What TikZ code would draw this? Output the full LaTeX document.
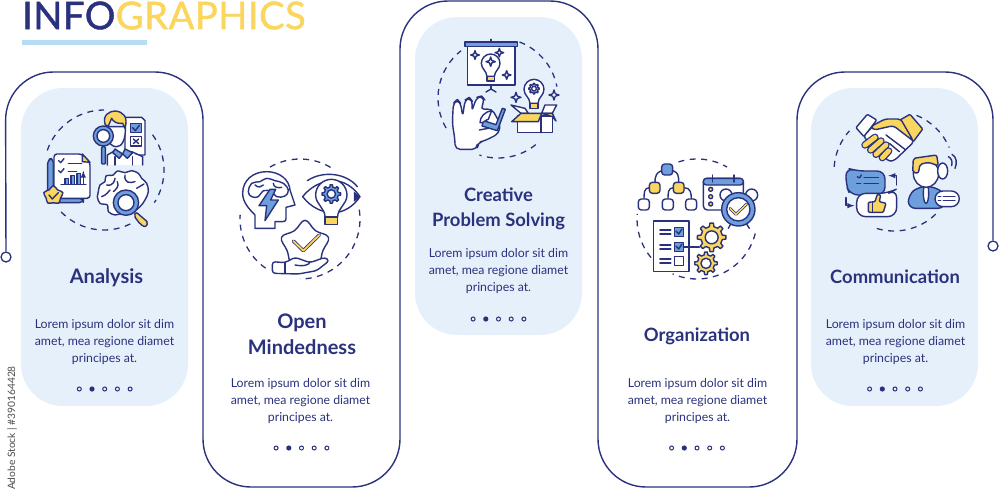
\documentclass[tikz,border=0pt]{standalone}
\usepackage{tikz}
\usepackage{fontspec}
\setmainfont{Lato}
\usetikzlibrary{positioning,calc}
\definecolor{navy}{HTML}{2A327D}
\definecolor{yelc}{HTML}{FBD65E}
\definecolor{midb}{HTML}{6C9FDC}
\definecolor{cardc}{HTML}{E6F0FB}
\definecolor{barc}{HTML}{B5DDF4}
\tikzset{
ln/.style={draw=navy,line width=1.4pt,line join=round,line cap=round},
wf/.style={ln,fill=white},
yf/.style={ln,fill=yelc},
bf/.style={ln,fill=midb},
dashline/.style={draw=navy,line width=1.3pt,dash pattern=on 6pt off 5.5pt},
card/.style={fill=cardc,rounded corners=42pt,inner sep=0pt},
headbig/.style={text=navy,align=center,font=\fontsize{20}{26}\selectfont\bfseries},
headtext/.style={text=navy,align=center,font=\fontsize{18.4}{25}\selectfont\bfseries},
bodytext/.style={text=navy,align=center,font=\fontsize{12.3}{17}\selectfont},
titletext/.style={anchor=base west,inner sep=0pt,font=\fontsize{38.2}{40}\selectfont\addfontfeature{FakeBold=1.2,LetterSpace=1.2}},
endring/.style={circle,draw=navy,line width=1.3pt,fill=white,minimum size=10pt,inner sep=0pt},
fingerline/.style={draw=navy,line width=7.4pt,line cap=round},
fingerfill/.style={line width=4.8pt,line cap=round},
pics/dotrow/.style={code={
\draw[navy,line width=1pt] (-25.4,0) circle (2);
\fill[navy] (-12.7,0) circle (2.6);
\draw[navy,line width=1pt] (0,0) circle (2);
\draw[navy,line width=1pt] (12.7,0) circle (2);
\draw[navy,line width=1pt] (25.4,0) circle (2);
}},
pics/gearicon/.style={code={
\draw[ln,fill=#1] (-12:.76) \foreach \a in {0,45,...,315}{-- (\a-12:.76) -- (\a-7:1) -- (\a+7:1) -- (\a+12:.76)} -- cycle;
\draw[ln,fill=white] (0,0) circle (.45);
}},
pics/sparkle/.style={code={
\draw[ln,fill=white] (0,-1) -- (.25,-.25) -- (1,0) -- (.25,.25) -- (0,1) -- (-.25,.25) -- (-1,0) -- (-.25,-.25) -- cycle;
}},
pics/starblob/.style={code={
\draw[ln,fill=#1] plot[smooth cycle,tension=.7] coordinates {(-90:1) (-54:.72) (-18:1) (18:.76) (54:.92) (90:.7) (126:.92) (162:.76) (198:1) (234:.72)};
}},
pics/bulb/.style={code={
\draw[ln,fill=#1] (-.4,1.4) .. controls (-.42,.8) and (-1,.6) .. (-1,0) .. controls (-1,-.55) and (-.55,-1) .. (0,-1) .. controls (.55,-1) and (1,-.55) .. (1,0) .. controls (1,.6) and (.42,.8) .. (.4,1.4) -- cycle;
\draw[yf] (-.4,1.4) rectangle (.4,1.9);
}}
}
\begin{document}
\begin{tikzpicture}[x=1pt,y=-1pt]
\useasboundingbox (0,0) rectangle (1000,488);
\node (info) [titletext,text=navy] at (22,29.2) {INFO};
\node (graphics) [titletext,text=yelc] at (info.base east) {GRAPHICS};
\fill[barc] (22,40) rectangle (147,45);
\node (cardA) [card,minimum width=167pt,minimum height=318pt] at (104.5,247) {};
\node (cardC) [card,minimum width=167pt,minimum height=318pt] at (498.5,176) {};
\node (cardE) [card,minimum width=167pt,minimum height=318pt] at (894.5,247) {};
\node (startring) [endring] at (6,257) {};
\node (endring) [endring] at (993,246) {};
\draw[navy,line width=1.4pt,rounded corners=48pt] (startring) -- (5.5,72) -- (203,72) -- (203,487) -- (400,487) -- (400,1) -- (598,1) -- (598,487) -- (797,487) -- (797,72) -- (993,72) -- (endring);
\node (headA) [headbig] at (106.5,277.5) {Analysis};
\node (textA) [bodytext] at (104.5,342) {Lorem ipsum dolor sit dim\\amet, mea regione diamet\\principes at.};
\pic at (104.7,389) {dotrow};
\node (headB) [headbig] at (302,334) {Open\\Mindedness};
\node (textB) [bodytext] at (300.5,401) {Lorem ipsum dolor sit dim\\amet, mea regione diamet\\principes at.};
\pic at (301.5,448) {dotrow};
\node (headC) [headtext] at (498.5,209) {Creative\\Problem Solving};
\node (textC) [bodytext] at (498.5,271) {Lorem ipsum dolor sit dim\\amet, mea regione diamet\\principes at.};
\pic at (498.5,319) {dotrow};
\node (headD) [headtext] at (697,336) {Organization};
\node (textD) [bodytext] at (697.5,401) {Lorem ipsum dolor sit dim\\amet, mea regione diamet\\principes at.};
\pic at (697,448) {dotrow};
\node (headE) [headtext] at (895,277) {Communication};
\node (textE) [bodytext] at (895.5,342) {Lorem ipsum dolor sit dim\\amet, mea regione diamet\\principes at.};
\pic at (895,389) {dotrow};
\node (stockline) [rotate=90,text=black!70,font=\fontsize{10.2}{12}\selectfont] at (12,428) {Adobe Stock | \#390164428};
\draw[dashline] (104,170) ++(-36:60) arc (-36:33:60);
\draw[dashline] (104,170) ++(64:60) arc (64:139:60);
\draw[dashline] (104,170) ++(199:60) arc (199:270:60);
\draw[dashline] (300,219) ++(240:60) arc (240:302:60);
\draw[dashline] (300,219) ++(351:60) arc (351:450:60);
\draw[dashline] (300,219) ++(125:60) arc (125:184:60);
\draw[dashline] (498,98) ++(-69:60) arc (-69:-11:60);
\draw[dashline] (498,98) ++(51:60) arc (51:108:60);
\draw[dashline] (498,98) ++(150:60) arc (150:232:60);
\draw[dashline] (697,219) ++(252:60) arc (252:300:60);
\draw[dashline] (697,219) ++(14:60) arc (14:114:60);
\draw[dashline] (697,219) ++(140:60) arc (140:185:60);
\draw[dashline] (894,171) ++(-68:60) arc (-68:-23:60);
\draw[dashline] (894,171) ++(46:60) arc (46:110:60);
\draw[dashline] (894,171) ++(184:60) arc (184:222:60);
\begin{scope}[x=.3333pt,y=-.3333pt]
\draw[wf] (375,352) -- (425,352) -- (435,362) -- (435,465) -- (375,465) -- cycle;
\draw[bf] (392,370) rectangle (424,398);
\draw[ln] (398,383) -- (406,392) -- (418,376);
\draw[wf] (392,410) rectangle (424,438);
\draw[ln] (400,417) -- (416,431);
\draw[ln] (416,417) -- (400,431);
\path[fill=white] (322,495) -- (322,465) -- (360,440) -- (395,460) -- (428,470) -- (428,495) -- cycle;
\draw[ln] (322,495) -- (322,465) -- (345,452);
\draw[ln] (395,455) -- (428,470) -- (428,495);
\draw[bf] (345,447) -- (368,462) -- (358,475) -- (338,458) -- cycle;
\draw[bf] (375,447) -- (398,458) -- (382,475) -- (368,462) -- cycle;
\draw[ln] (345,470) -- (345,495);
\draw[ln] (398,470) -- (398,495);
\draw[wf] (320,380) .. controls (318,440) and (345,440) .. (350,440) .. controls (365,440) and (378,420) .. (376,380) -- cycle;
\draw[yf] (316,375) .. controls (305,345) and (330,333) .. (345,333) .. controls (370,335) and (385,350) .. (375,385) -- (368,370) .. controls (350,372) and (340,365) .. (335,355) -- (325,378) -- cycle;
\draw[bf,rounded corners=1pt] (305,440) rectangle (316,492);
\draw[ln,fill=midb] (310,408) circle (30);
\draw[ln,fill=white] (310,408) circle (19);
\draw[bf,rounded corners=4pt] (143,478) -- (143,608) -- (250,608) -- (250,595) -- (160,595) -- (160,475) -- cycle;
\draw[wf,rounded corners=3pt] (162,462) -- (245,462) -- (270,487) -- (270,595) -- (162,595) -- cycle;
\draw[yf] (247,462) -- (270,487) -- (247,485) -- cycle;
\draw[ln] (176,482) -- (182,488) -- (192,476);
\draw[ln] (176,512) -- (182,518) -- (192,506);
\draw[ln] (205,490) -- (245,490);
\draw[ln] (205,515) -- (230,515);
\draw[ln] (183,553) -- (258,553);
\draw[bf] (195,535) rectangle (206,553);
\draw[bf] (213,527) rectangle (224,553);
\draw[bf] (231,520) rectangle (242,553);
\draw[ln,-latex] (250,553) -- (250,512);
\pic[scale=30] at (160,587) {starblob={yelc}};
\draw[ln] (147,585) -- (157,597) -- (175,578);
\draw[wf] plot[smooth cycle,tension=.6] coordinates {(295,575) (300,555) (315,545) (318,528) (340,525) (352,513) (375,518) (395,512) (415,520) (425,535) (440,550) (445,575) (435,600) (420,620) (395,638) (365,640) (345,645) (325,635) (322,615) (300,610) (292,590)};
\draw[ln] (320,555) .. controls (340,560) and (345,540) .. (345,535);
\draw[ln] (375,525) .. controls (372,550) and (390,550) .. (405,545);
\draw[ln] (305,590) .. controls (320,585) and (325,575) .. (330,570);
\draw[ln] (410,565) -- (432,552);
\draw[ln] (352,545) .. controls (360,560) and (345,570) .. (340,575);
\draw[yf,rounded corners=2pt] (408,636) -- (422,648) -- (445,668) -- (436,682) -- (420,672) -- (402,648) -- cycle;
\draw[bf] (378,608) circle (38);
\draw[wf] (378,608) circle (24);
\end{scope}
\begin{scope}[shift={(210,150)},x=.3333pt,y=-.3333pt]
\draw[wf] (135,235) -- (135,195) .. controls (115,175) and (98,155) .. (98,130) .. controls (98,90) and (130,65) .. (170,65) .. controls (210,65) and (238,90) .. (240,120) -- (255,165) -- (228,172) -- (228,205) .. controls (228,215) and (222,215) .. (215,215) -- (195,215) -- (195,235) -- cycle;
\draw[wf] plot[smooth cycle,tension=.7] coordinates {(115,125) (125,100) (150,95) (170,85) (195,92) (220,100) (235,120) (225,138) (200,140) (185,125) (160,122) (145,140) (125,140)};
\draw[ln] (135,105) .. controls (145,115) and (155,110) .. (160,105);
\draw[ln] (190,100) .. controls (190,112) and (205,115) .. (215,112);
\draw[bf] (180,118) -- (147,167) -- (170,167) -- (165,212) -- (205,150) -- (182,150) -- (197,118) -- cycle;
\draw[ln] (292,92) .. controls (340,60) and (410,70) .. (442,110);
\draw[wf] (278,140) .. controls (310,100) and (350,92) .. (370,92) .. controls (400,92) and (430,110) .. (450,140) .. controls (430,170) and (400,188) .. (370,188) .. controls (340,188) and (305,175) .. (278,140) -- cycle;
\path[fill=navy] (432,125) .. controls (440,130) and (445,135) .. (450,140) .. controls (445,145) and (440,150) .. (432,155) -- cycle;
\pic[scale=47] at (364,135) {bulb={white}};
\pic[scale=28] at (364,132) {gearicon={midb}};
\pic[scale=74] at (285,285) {starblob={white}};
\draw[line width=3.4pt,navy,line cap=round,line join=round] (250,273) -- (280,302) -- (328,255);
\draw[line width=1.8pt,yelc,line cap=round,line join=round] (250,273) -- (280,302) -- (328,255);
\draw[wf,rounded corners=3pt] (187,335) -- (225,338) -- (255,322) -- (300,338) -- (345,322) -- (358,332) -- (320,362) -- (265,372) -- (187,370) -- cycle;
\draw[ln] (225,338) -- (225,370);
\draw[ln] (255,345) .. controls (280,350) and (300,345) .. (300,335);
\end{scope}
\begin{scope}[shift={(420,20)},x=.3333pt,y=-.3333pt]
\draw[ln] (213,58) -- (213,66);
\draw[wf] (142,80) rectangle (285,195);
\draw[bf] (135,66) rectangle (292,80);
\draw[ln] (213,195) -- (213,207);
\draw[ln] (198,216) -- (213,207) -- (228,216);
\pic[scale=28] at (212,130) {bulb={white}};
\pic[scale=13] at (165,105) {sparkle};
\pic[scale=13] at (238,98) {sparkle};
\pic[scale=14] at (212,125) {sparkle};
\pic[scale=13] at (260,165) {sparkle};
\draw[wf,rounded corners=5pt] (105,388) -- (105,360) -- (97,310) -- (100,250) -- (112,238) -- (122,250) -- (128,290) -- (135,240) -- (148,232) -- (158,245) -- (155,275) -- (170,232) -- (185,228) -- (195,240) -- (180,270) -- (215,265) -- (240,310) -- (238,340) -- (195,362) -- (172,368) -- (172,388) -- cycle;
\draw[bf] (190,302) -- (228,314) -- (247,265) -- (256,268) -- (232,332) -- (186,318) -- cycle;
\draw[wf] (180,308) .. controls (180,290) and (195,275) .. (215,272) -- (205,298) .. controls (195,300) and (188,312) .. (180,308) -- cycle;
\draw[ln] (178,330) -- (205,325);
\pic[scale=30] at (342,208) {bulb={white}};
\pic[scale=16] at (342,206) {gearicon={white}};
\draw[wf] (293,288) rectangle (397,338);
\draw[ln] (363,288) -- (363,338);
\draw[wf] (273,255) -- (315,265) -- (325,280) -- (303,280) -- cycle;
\draw[wf] (375,255) -- (410,255) -- (397,280) -- (365,280) -- cycle;
\draw[yf] (275,305) -- (303,280) -- (365,280) -- (355,305) -- cycle;
\draw[yf] (365,280) -- (397,280) -- (408,303) -- (397,290) -- cycle;
\pic[scale=15] at (288,232) {sparkle};
\pic[scale=15] at (402,225) {sparkle};
\end{scope}
\begin{scope}[shift={(620,150)},x=.3333pt,y=-.3333pt]
\draw[ln] (142,60) .. controls (180,60) and (176,85) .. (176,97);
\draw[ln] (142,60) .. controls (104,60) and (105,85) .. (105,97);
\draw[ln] (88,113) .. controls (72,113) and (72,130) .. (72,147);
\draw[ln] (160,113) .. controls (144,113) and (144,130) .. (144,147);
\draw[ln] (192,113) .. controls (212,113) and (214,130) .. (214,147);
\draw[bf,rounded corners=3pt] (125,42) rectangle (158,75);
\draw[yf,rounded corners=3pt] (88,97) rectangle (120,130);
\draw[yf,rounded corners=3pt] (160,97) rectangle (192,130);
\draw[wf,rounded corners=3pt] (55,147) rectangle (88,180);
\draw[wf,rounded corners=3pt] (127,147) rectangle (160,180);
\draw[wf,rounded corners=3pt] (197,147) rectangle (230,180);
\draw[wf,rounded corners=4pt] (250,85) rectangle (370,180);
\draw[bf,rounded corners=3pt] (250,85) rectangle (370,105);
\draw[ln] (278,75) -- (278,96);
\draw[ln] (342,75) -- (342,96);
\draw[yf] (272,118) circle (6);
\draw[yf] (272,140) circle (6);
\draw[yf] (272,162) circle (6);
\draw[wf] (318,135) circle (18);
\draw[wf] (395,135) circle (18);
\draw[ln] (325,235) -- (332,222);
\draw[ln] (388,235) -- (380,222);
\draw[bf] (355,178) circle (50);
\draw[wf] (355,178) circle (35);
\draw[line width=2.8pt,navy,line cap=round,line join=round] (330,175) -- (348,193) -- (380,162);
\draw[line width=1.4pt,yelc,line cap=round,line join=round] (330,175) -- (348,193) -- (380,162);
\draw[wf] (100,213) rectangle (207,365);
\draw[ln,line width=2pt] (120,240) -- (152,240);
\draw[ln,line width=2pt] (120,252) -- (152,252);
\draw[ln,line width=2pt] (120,285) -- (152,285);
\draw[ln,line width=2pt] (120,297) -- (152,297);
\draw[ln,line width=2pt] (120,328) -- (152,328);
\draw[ln,line width=2pt] (120,340) -- (152,340);
\draw[bf] (163,233) rectangle (190,260);
\draw[ln] (168,243) -- (176,252) -- (186,237);
\draw[bf] (163,278) rectangle (190,305);
\draw[ln] (168,288) -- (176,297) -- (186,282);
\draw[wf] (163,320) rectangle (190,347);
\draw[ln] (190,291) -- (238,291);
\pic[scale=43] at (275,262) {gearicon={yelc}};
\pic[scale=34] at (258,340) {gearicon={yelc}};
\end{scope}
\begin{scope}[shift={(850,105)},x=.3333pt,y=-.3333pt]
\draw[wf,rounded corners=1pt] (52,28) -- (18,68) -- (42,95) -- (80,45) -- cycle;
\draw[wf,rounded corners=3pt] (72,60) -- (40,95) -- (118,170) -- (135,165) -- (192,110) -- (140,50) -- cycle;
\draw[yf,rounded corners=1pt] (180,28) -- (218,72) -- (190,110) -- (150,45) -- cycle;
\draw[yf,rounded corners=3pt] (62,65) -- (105,42) -- (152,42) -- (190,108) -- (130,62) -- (72,75) -- cycle;
\draw[ln] (108,90) -- (165,133);
\draw[ln] (118,115) -- (148,140);
\draw[fingerline] (45,120) -- (75,97);
\draw[yelc,fingerfill] (45,120) -- (75,97);
\draw[fingerline] (62,135) -- (93,108);
\draw[yelc,fingerfill] (62,135) -- (93,108);
\draw[fingerline] (78,148) -- (108,120);
\draw[yelc,fingerfill] (78,148) -- (108,120);
\draw[fingerline] (97,158) -- (116,138);
\draw[yelc,fingerfill] (97,158) -- (116,138);
\end{scope}
\begin{scope}[shift={(820,95)},x=.3333pt,y=-.3333pt]
\draw[bf,rounded corners=7pt] (265,340) -- (265,300) -- (295,275) -- (345,275) -- (375,298) -- (375,340) -- cycle;
\draw[wf] (318,295) ellipse (8 and 30);
\draw[wf] (318,235) ellipse (38 and 42);
\draw[yf,rounded corners=2pt] (278,232) -- (280,190) -- (350,180) -- (355,212) -- (325,202) -- (300,208) -- (295,235) -- cycle;
\draw[wf] (368,228) ellipse (15 and 24);
\draw[ln] (385,185) .. controls (395,190) and (398,200) .. (395,212);
\draw[ln] (396,178) .. controls (410,185) and (412,205) .. (405,220);
\draw[wf,rounded corners=8pt] (345,288) rectangle (418,335);
\draw[ln] (370,305) -- (405,305);
\draw[ln] (370,317) -- (405,317);
\draw[ln] (355,305) -- (362,305);
\draw[ln] (355,317) -- (362,317);
\draw[bf,rounded corners=8pt] (78,218) -- (110,228) -- (195,228) -- (195,300) -- (90,300) -- (78,270) -- cycle;
\draw[ln,rounded corners=1pt] (112,245) -- (118,250) -- (124,240);
\draw[ln] (132,248) -- (175,248);
\draw[ln] (110,265) -- (122,265);
\draw[ln] (132,265) -- (175,265);
\draw[wf,rounded corners=9pt] (110,295) -- (205,295) -- (230,282) -- (230,365) -- (110,365) -- cycle;
\draw[yf,rounded corners=1pt] (145,352) -- (145,322) -- (165,320) -- (172,298) -- (182,300) -- (178,320) -- (198,325) -- (190,352) -- cycle;
\draw[ln] (158,322) -- (158,352);
\draw[ln,-latex] (230,270) -- (230,242) -- (205,242);
\draw[ln,-latex] (78,308) -- (78,332) -- (103,332);
\end{scope}
\end{tikzpicture}
\end{document}
